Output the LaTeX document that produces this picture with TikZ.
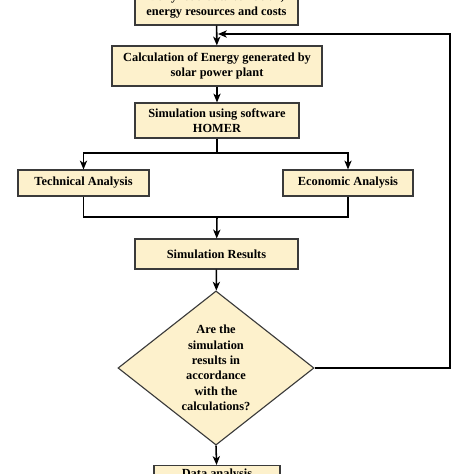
\documentclass[tikz,border=0pt]{standalone}
\usepackage{fontspec}
\setmainfont{Liberation Serif}
\usetikzlibrary{shapes.geometric,arrows.meta}

\definecolor{boxfill}{HTML}{FDF1CC}
\definecolor{boxline}{HTML}{3A3A3A}

\tikzset{
  stepbox/.style={draw=boxline, fill=boxfill, line width=0.8pt, align=center,
    inner sep=1pt, font=\fontsize{8.8}{10.9}\selectfont\bfseries},
  choice/.style={stepbox, diamond, inner sep=0pt},
  flow/.style={line width=1.1pt, -{Stealth[length=2.2mm,width=1.8mm,inset=0.6mm]}},
  link/.style={line width=1.1pt}
}

\begin{document}
\begin{tikzpicture}[x=0.025cm, y=-0.025cm]

\clip (0,0) rectangle (474,474);

% Input data
\node[stepbox, minimum width=4.075cm, minimum height=1cm] (input) at (216.5,5)
  {Daily load data variation,\\energy resources and costs};
% Energy calculation
\node[stepbox, minimum width=5.25cm, minimum height=1cm] (calc) at (217,66)
  {Calculation of Energy generated by\\solar power plant};
% HOMER simulation
\node[stepbox, minimum width=4.1cm, minimum height=0.875cm] (homer) at (217,120.5)
  {Simulation using software\\HOMER};
% Analyses
\node[stepbox, minimum width=3.275cm, minimum height=0.65cm] (tech) at (83.5,183)
  {Technical Analysis};
\node[stepbox, minimum width=3.25cm, minimum height=0.65cm] (econ) at (348,183)
  {Economic Analysis};
% Results
\node[stepbox, minimum width=4.075cm, minimum height=0.75cm] (results) at (216.5,254)
  {Simulation Results};
% Check
\node[choice, minimum width=4.9cm, minimum height=3.85cm] (check) at (216,368)
  {Are the\\simulation\\results in\\accordance\\with the\\calculations?};
% Output
\node[stepbox, minimum width=3.15cm, minimum height=0.75cm, anchor=north] (final) at (217,465)
  {Data analysis\\~};

% Helper points
\coordinate (split) at (217,153);
\coordinate (join) at (217,217);
\coordinate (loop) at (450,368);
\coordinate (back) at (218,34);

% Connectors
\draw[flow] (input) -- (calc);
\draw[flow] (calc) -- (homer);
\draw[link] (homer) -- (split);
\draw[flow] (split) -| (tech);
\draw[flow] (split) -| (econ);
\draw[link] (tech) |- (join) -| (econ);
\draw[flow] (join) -- (results);
\draw[flow] (results) -- (check);
\draw[flow] (check.east) -- (loop) |- (back);
\draw[flow] (check.south) -- (final);

\end{tikzpicture}
\end{document}
